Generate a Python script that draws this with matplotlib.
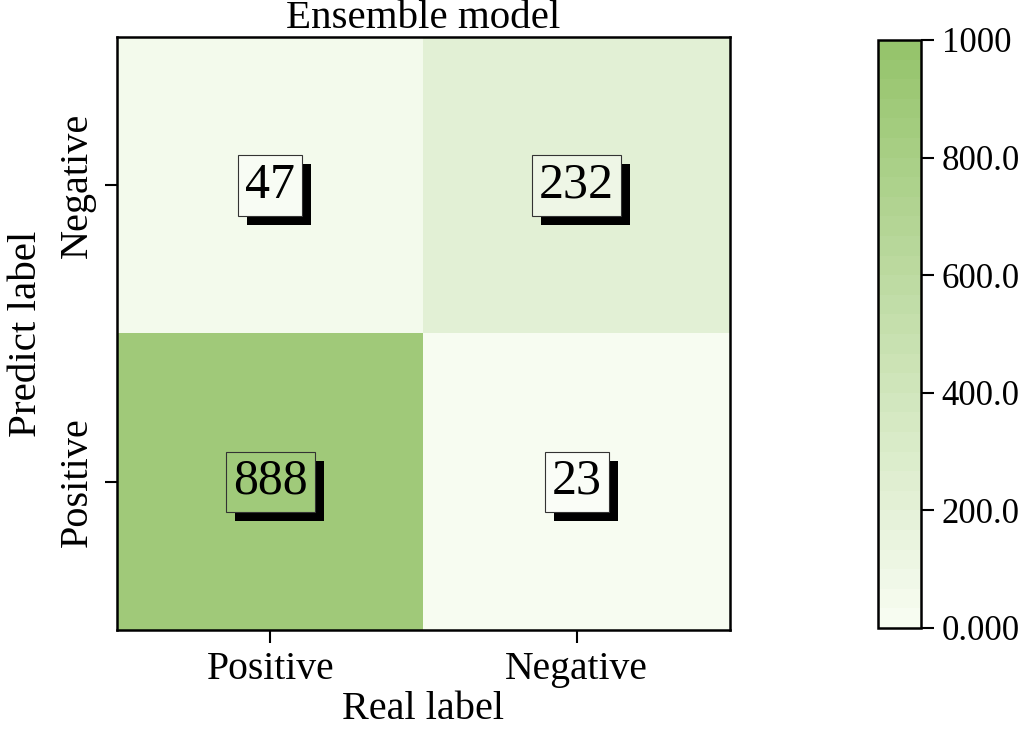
import numpy as np
import matplotlib
matplotlib.use("Agg")
import matplotlib.pyplot as plt
from matplotlib.colors import LinearSegmentedColormap
from matplotlib import patheffects

plt.rcParams['font.family'] = ['Liberation Serif', 'DejaVu Serif']

# confusion matrix: rows = predict label, cols = real label
row_labels = ['Negative', 'Positive']
col_labels = ['Positive', 'Negative']
counts = np.array([[47, 232],
                   [888, 23]])
cbar_ticks = [0, 200, 400, 600, 800, 1000]
cbar_ticklabels = ['0.000', '200.0', '400.0', '600.0', '800.0', '1000']

cmap = LinearSegmentedColormap.from_list('greens', ['#f7fcf1', '#96c46c'], N=30)

fig = plt.figure(figsize=(10.2, 7.29), dpi=100)
ax = fig.add_axes([117 / 1020, 1 - 630 / 729, 613 / 1020, 593 / 729])
cax = fig.add_axes([878 / 1020, 1 - 628 / 729, 43 / 1020, 588 / 729])

im = ax.imshow(counts, cmap=cmap, vmin=0, vmax=1000, aspect='auto')

for i in range(counts.shape[0]):
    for j in range(counts.shape[1]):
        face = cmap(counts[i, j] / 1000)
        face = tuple(0.6 * np.array(face[:3]) + 0.4) if counts[i, j] < 500 else face
        t = ax.text(j, i, str(counts[i, j]), ha='center', va='center', fontsize=36,
                    bbox=dict(boxstyle='square,pad=0.14', facecolor=face,
                              edgecolor='#333333', linewidth=0.8))
        t.get_bbox_patch().set_path_effects([
            patheffects.withSimplePatchShadow(offset=(6.5, -6.5), shadow_rgbFace='black', alpha=1.0)
        ])

ax.set_xticks(range(len(col_labels)))
ax.set_xticklabels(col_labels, fontsize=28.5)
ax.set_yticks(range(len(row_labels)))
ax.set_yticklabels(row_labels, fontsize=29, rotation=90, va='center')
ax.tick_params(length=9, width=1.5, pad=6)
ax.set_xlabel('Real label', fontsize=29, labelpad=2)
ax.set_ylabel('Predict label', fontsize=29.5, labelpad=10)
ax.set_title('Ensemble model', fontsize=29.5, pad=4)
for s in ax.spines.values():
    s.set_linewidth(1.8)

cb = fig.colorbar(im, cax=cax, ticks=cbar_ticks)
cb.ax.set_yticklabels(cbar_ticklabels, fontsize=25)
cb.ax.tick_params(length=9, width=1.5, pad=6)
cb.outline.set_linewidth(1.8)

fig.savefig('out.png', dpi=100)
